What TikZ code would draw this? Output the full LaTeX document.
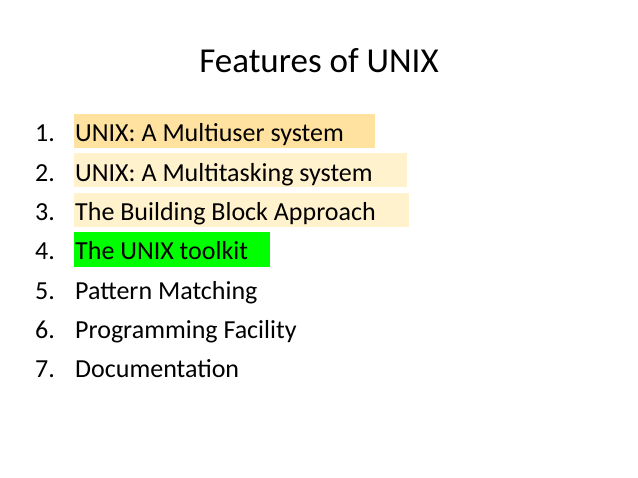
\documentclass[tikz,border=0pt]{standalone}
\usepackage{fontspec}
\setmainfont{Carlito}
\definecolor{hlA}{HTML}{FFE29F}
\definecolor{hlB}{HTML}{FFF2CC}
\definecolor{hlG}{HTML}{00FF00}
\begin{document}
\begin{tikzpicture}[x=1pt,y=-1pt,
  item/.style={anchor=base west,inner sep=0pt,font=\fontsize{26}{30}\selectfont},
  num/.style={anchor=base west,inner sep=0pt,font=\fontsize{26}{30}\selectfont}]
\useasboundingbox[fill=white] (0,0) rectangle (638,478);
\fill[hlA] (74,114) rectangle (375,148);
\fill[hlB] (74,153) rectangle (407,187);
\fill[hlB] (74,193) rectangle (409,227);
\fill[hlG] (74,232) rectangle (270,267);
\node[anchor=base,inner sep=0pt,font=\fontsize{35}{40}\selectfont] (title) at (319,73) {Features of UNIX};
\foreach \n/\t [count=\i] in {1/{UNIX: A Multiuser system},2/{UNIX: A Multitasking system},3/{The Building Block Approach},4/{The UNIX toolkit},5/{Pattern Matching},6/{Programming Facility},7/{Documentation}}{
  \node[num] (n\i) at (35,{142+(\i-1)*39.3}) {\n.};
  \node[item] (t\i) at (75,{142+(\i-1)*39.3}) {\t};
}
\end{tikzpicture}
\end{document}
